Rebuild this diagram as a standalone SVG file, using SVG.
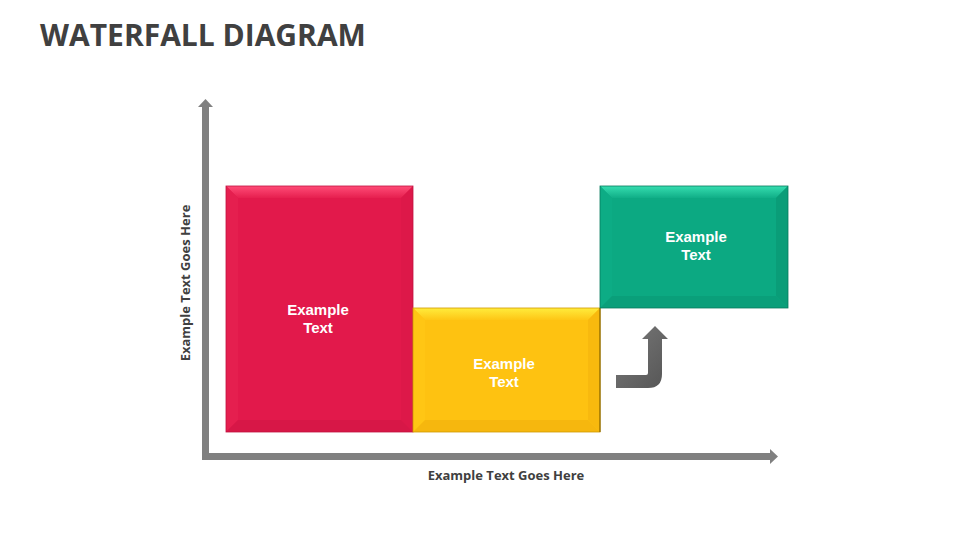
<svg xmlns="http://www.w3.org/2000/svg" width="960" height="540" viewBox="0 0 960 540">
  <defs>
    <linearGradient id="redTop" x1="0" y1="0" x2="0" y2="1">
      <stop offset="0" stop-color="#FF4C77"/>
      <stop offset="1" stop-color="#E61F4F"/>
    </linearGradient>
    <linearGradient id="yelTop" x1="0" y1="0" x2="0" y2="1">
      <stop offset="0" stop-color="#FFEC3C"/>
      <stop offset="1" stop-color="#FEC615"/>
    </linearGradient>
    <linearGradient id="grnTop" x1="0" y1="0" x2="0" y2="1">
      <stop offset="0" stop-color="#36DDB0"/>
      <stop offset="1" stop-color="#10AE87"/>
    </linearGradient>
    <linearGradient id="arrowGrad" x1="0" y1="0" x2="1" y2="1">
      <stop offset="0" stop-color="#7A7A7A"/>
      <stop offset="1" stop-color="#555555"/>
    </linearGradient>
    <style>
      .title { font-family: "Open Sans", "Liberation Sans", sans-serif; font-weight: 700; font-size: 30px; fill: #404040; }
      .box-label { font-family: "Liberation Sans", Arial, sans-serif; font-weight: 700; font-size: 15px; fill: #FFFFFF; text-anchor: middle; }
      .axis-label { font-family: "Open Sans", "Liberation Sans", sans-serif; font-weight: 700; font-size: 13px; fill: #404040; text-anchor: middle; }
      .axis { fill: #808080; }
    </style>
  </defs>

  <text class="title" x="40" y="46">WATERFALL DIAGRAM</text>

  <g id="connectors">
    <g id="y-axis">
      <rect class="axis" x="202" y="106" width="7" height="354"/>
      <polygon class="axis" points="198,107 205.5,99 213,107"/>
    </g>
    <g id="x-axis">
      <rect class="axis" x="202" y="453" width="569" height="7"/>
      <polygon class="axis" points="770,449 778,456.5 770,464"/>
    </g>
    <path id="curved-arrow" fill="url(#arrowGrad)" d="M616,375 L646,375 Q648,375 648,373 L648,339 L642,339 L655,326 L668,339 L662,339 L662,374 Q662,388 648,388 L616,388 Z"/>
  </g>

  <g id="node-red">
    <rect x="226" y="186" width="187" height="246" fill="#E2194B"/>
    <polygon points="226,186 413,186 401,198 238,198" fill="url(#redTop)"/>
    <polygon points="226,186 238,198 238,420 226,432" fill="#E51F4F"/>
    <polygon points="413,186 413,432 401,420 401,198" fill="#D5164670"/>
    <polygon points="226,432 238,420 401,420 413,432" fill="#D71747"/>
    <rect x="226" y="186" width="187" height="246" fill="none" stroke="#C01240" stroke-width="0.8"/>
    <text class="box-label" x="318" y="315">Example<tspan x="318" dy="17.5">Text</tspan></text>
  </g>

  <g id="node-yellow">
    <rect x="413" y="308" width="187" height="124" fill="#FEC211"/>
    <polygon points="413,308 600,308 588,320 425,320" fill="url(#yelTop)"/>
    <polygon points="413,308 425,320 425,420 413,432" fill="#FFC614"/>
    <polygon points="600,308 600,432 588,420 588,320" fill="#F8B90E"/>
    <polygon points="413,432 425,420 588,420 600,432" fill="#F6B70E"/>
    <rect x="413" y="308" width="187" height="124" fill="none" stroke="#D09A00" stroke-width="0.8"/>
    <line x1="600" y1="308" x2="600" y2="432" stroke="#8A6800" stroke-width="1.2"/>
    <text class="box-label" x="504" y="369">Example<tspan x="504" dy="17.5">Text</tspan></text>
  </g>

  <g id="node-green">
    <rect x="600" y="186" width="188" height="122" fill="#0CA982"/>
    <polygon points="600,186 788,186 776,198 612,198" fill="url(#grnTop)"/>
    <polygon points="600,186 612,198 612,296 600,308" fill="#0DAC85"/>
    <polygon points="788,186 788,308 776,296 776,198" fill="#0A9D78"/>
    <polygon points="600,308 612,296 776,296 788,308" fill="#0A9F7A"/>
    <rect x="600" y="186" width="188" height="122" fill="none" stroke="#077A5C" stroke-width="0.8"/>
    <text class="box-label" x="696" y="242">Example<tspan x="696" dy="17.5">Text</tspan></text>
  </g>

  <text class="axis-label" x="506" y="480">Example Text Goes Here</text>
  <text class="axis-label" transform="translate(190,283) rotate(-90)" x="0" y="0">Example Text Goes Here</text>
</svg>
